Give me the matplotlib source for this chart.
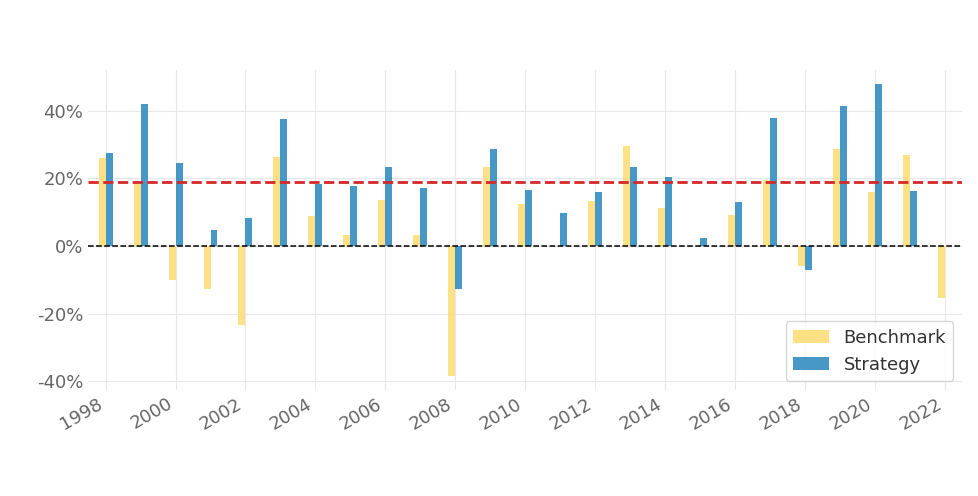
import matplotlib
matplotlib.use("Agg")
import matplotlib.pyplot as plt
import numpy as np
from matplotlib.ticker import FuncFormatter

years = list(range(1998, 2023))
benchmark = [26.0, 18.6, -10.0, -12.7, -23.3, 26.3, 8.8, 3.2, 13.6, 3.2, -38.3, 23.3, 12.4, 0.0,
             13.3, 29.5, 11.2, 0.0, 9.1, 19.5, -5.9, 28.6, 15.9, 26.8, -15.3]
strategy = [27.4, 41.9, 24.5, 4.7, 8.3, 37.5, 18.3, 17.7, 23.3, 17.1, -12.7, 28.6, 16.5, 9.7,
            15.9, 23.3, 20.4, 2.4, 13.0, 37.8, -7.0, 41.3, 47.8, 16.2, 0.0]

fig = plt.figure(figsize=(9.79, 4.96), dpi=100)
ax = fig.add_axes([0.09, 0.214, 0.893, 0.645])
x = np.array(years)
ax.bar(x - 0.1, benchmark, width=0.2, color="#fedd78", alpha=0.9, label="Benchmark", zorder=2)
ax.bar(x + 0.1, strategy, width=0.2, color="#348dc1", alpha=0.9, label="Strategy", zorder=2)
ax.axhline(np.mean(strategy), color="#d62728", ls="--", lw=2, zorder=3)
ax.axhline(0, color="black", ls="--", lw=1.1, zorder=3)
ax.set_xlim(1997.5, 2022.5)
ax.set_ylim(-42.5, 52)
ax.set_xticks(years[::2])
ax.set_yticks([-40, -20, 0, 20, 40])
ax.yaxis.set_major_formatter(FuncFormatter(lambda v, p: f"{v:.0f}%"))
ax.grid(True, color="#e8e8e8", lw=0.8, zorder=0)
for s in ax.spines.values():
    s.set_visible(False)
ax.tick_params(length=0, labelsize=13, colors="#666666")
plt.setp(ax.get_xticklabels(), rotation=30, ha="right")
leg = ax.legend(loc="lower right", fontsize=13, frameon=True)
for t in leg.get_texts():
    t.set_color("#333333")
fig.savefig("out.png", dpi=100)
